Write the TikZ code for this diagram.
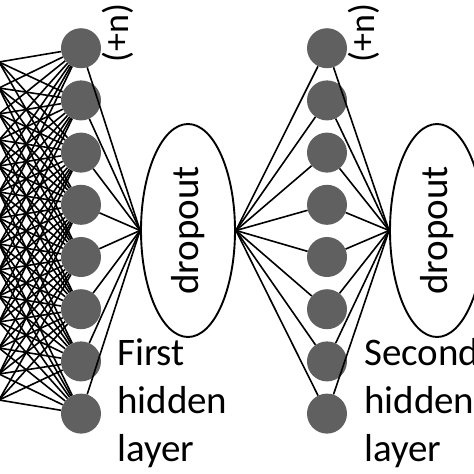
\documentclass[tikz,border=0pt]{standalone}
\usepackage{fontspec}
\setmainfont{Carlito}
\usetikzlibrary{shapes.geometric}
\definecolor{unitgray}{RGB}{96,96,96}
\tikzset{
  unit/.style={circle, fill=unitgray, minimum size=40pt, inner sep=0pt},
  dropbox/.style={ellipse, draw, line width=1.9pt, minimum width=94pt, minimum height=213pt, inner sep=0pt},
  wire/.style={line width=1.6pt},
  bigtext/.style={font=\fontsize{39}{48}\selectfont, inner sep=0pt},
  plustext/.style={font=\fontsize{36}{40}\selectfont, inner sep=0pt}
}

\begin{document}
\begin{tikzpicture}[x=1pt, y=-1pt]
  \useasboundingbox (0,0) rectangle (474,474);
  \clip (0,0) rectangle (474,474);

  % inputs sit just outside the frame
  \foreach \i in {1,...,14}
    \coordinate (in\i) at (-1, 36+26*\i);

  \foreach \j in {1,...,8} {
    \node[unit] (h\j) at (81, -4+52.2*\j) {};
    \node[unit] (s\j) at (327, -4+52.2*\j) {};
  }

  \node[dropbox] (dropA) at (188, 230.5) {};
  \node[dropbox] (dropB) at (437, 230.5) {};

  \foreach \i in {1,...,14}
    \foreach \j in {1,...,8} {
      \pgfmathtruncatemacro\gap{abs((36+26*\i)-(-4+52.2*\j))}
      \ifnum\gap<170 \draw[wire] (in\i) -- (h\j); \fi
    }

  \foreach \j in {1,...,8} {
    \draw[wire] (h\j) -- (dropA.west);
    \draw[wire] (dropA.east) -- (s\j);
    \draw[wire] (s\j) -- (dropB.west);
  }

  \node[bigtext, rotate=90] (dropAtext) at (dropA) {dropout};
  \node[bigtext, rotate=90] (dropBtext) at (dropB) {dropout};

  \node[plustext, rotate=90] (plusA) at (118, 33) {(+n)};
  \node[plustext, rotate=90] (plusB) at (364, 33) {(+n)};

  \node[bigtext, anchor=base west] (firstA) at (117, 365) {First};
  \node[bigtext, anchor=base west] (firstB) at (117, 413) {hidden};
  \node[bigtext, anchor=base west] (firstC) at (117, 461) {layer};

  \node[bigtext, anchor=base west] (secondA) at (364, 365) {Second};
  \node[bigtext, anchor=base west] (secondB) at (364, 413) {hidden};
  \node[bigtext, anchor=base west] (secondC) at (364, 461) {layer};
\end{tikzpicture}
\end{document}
